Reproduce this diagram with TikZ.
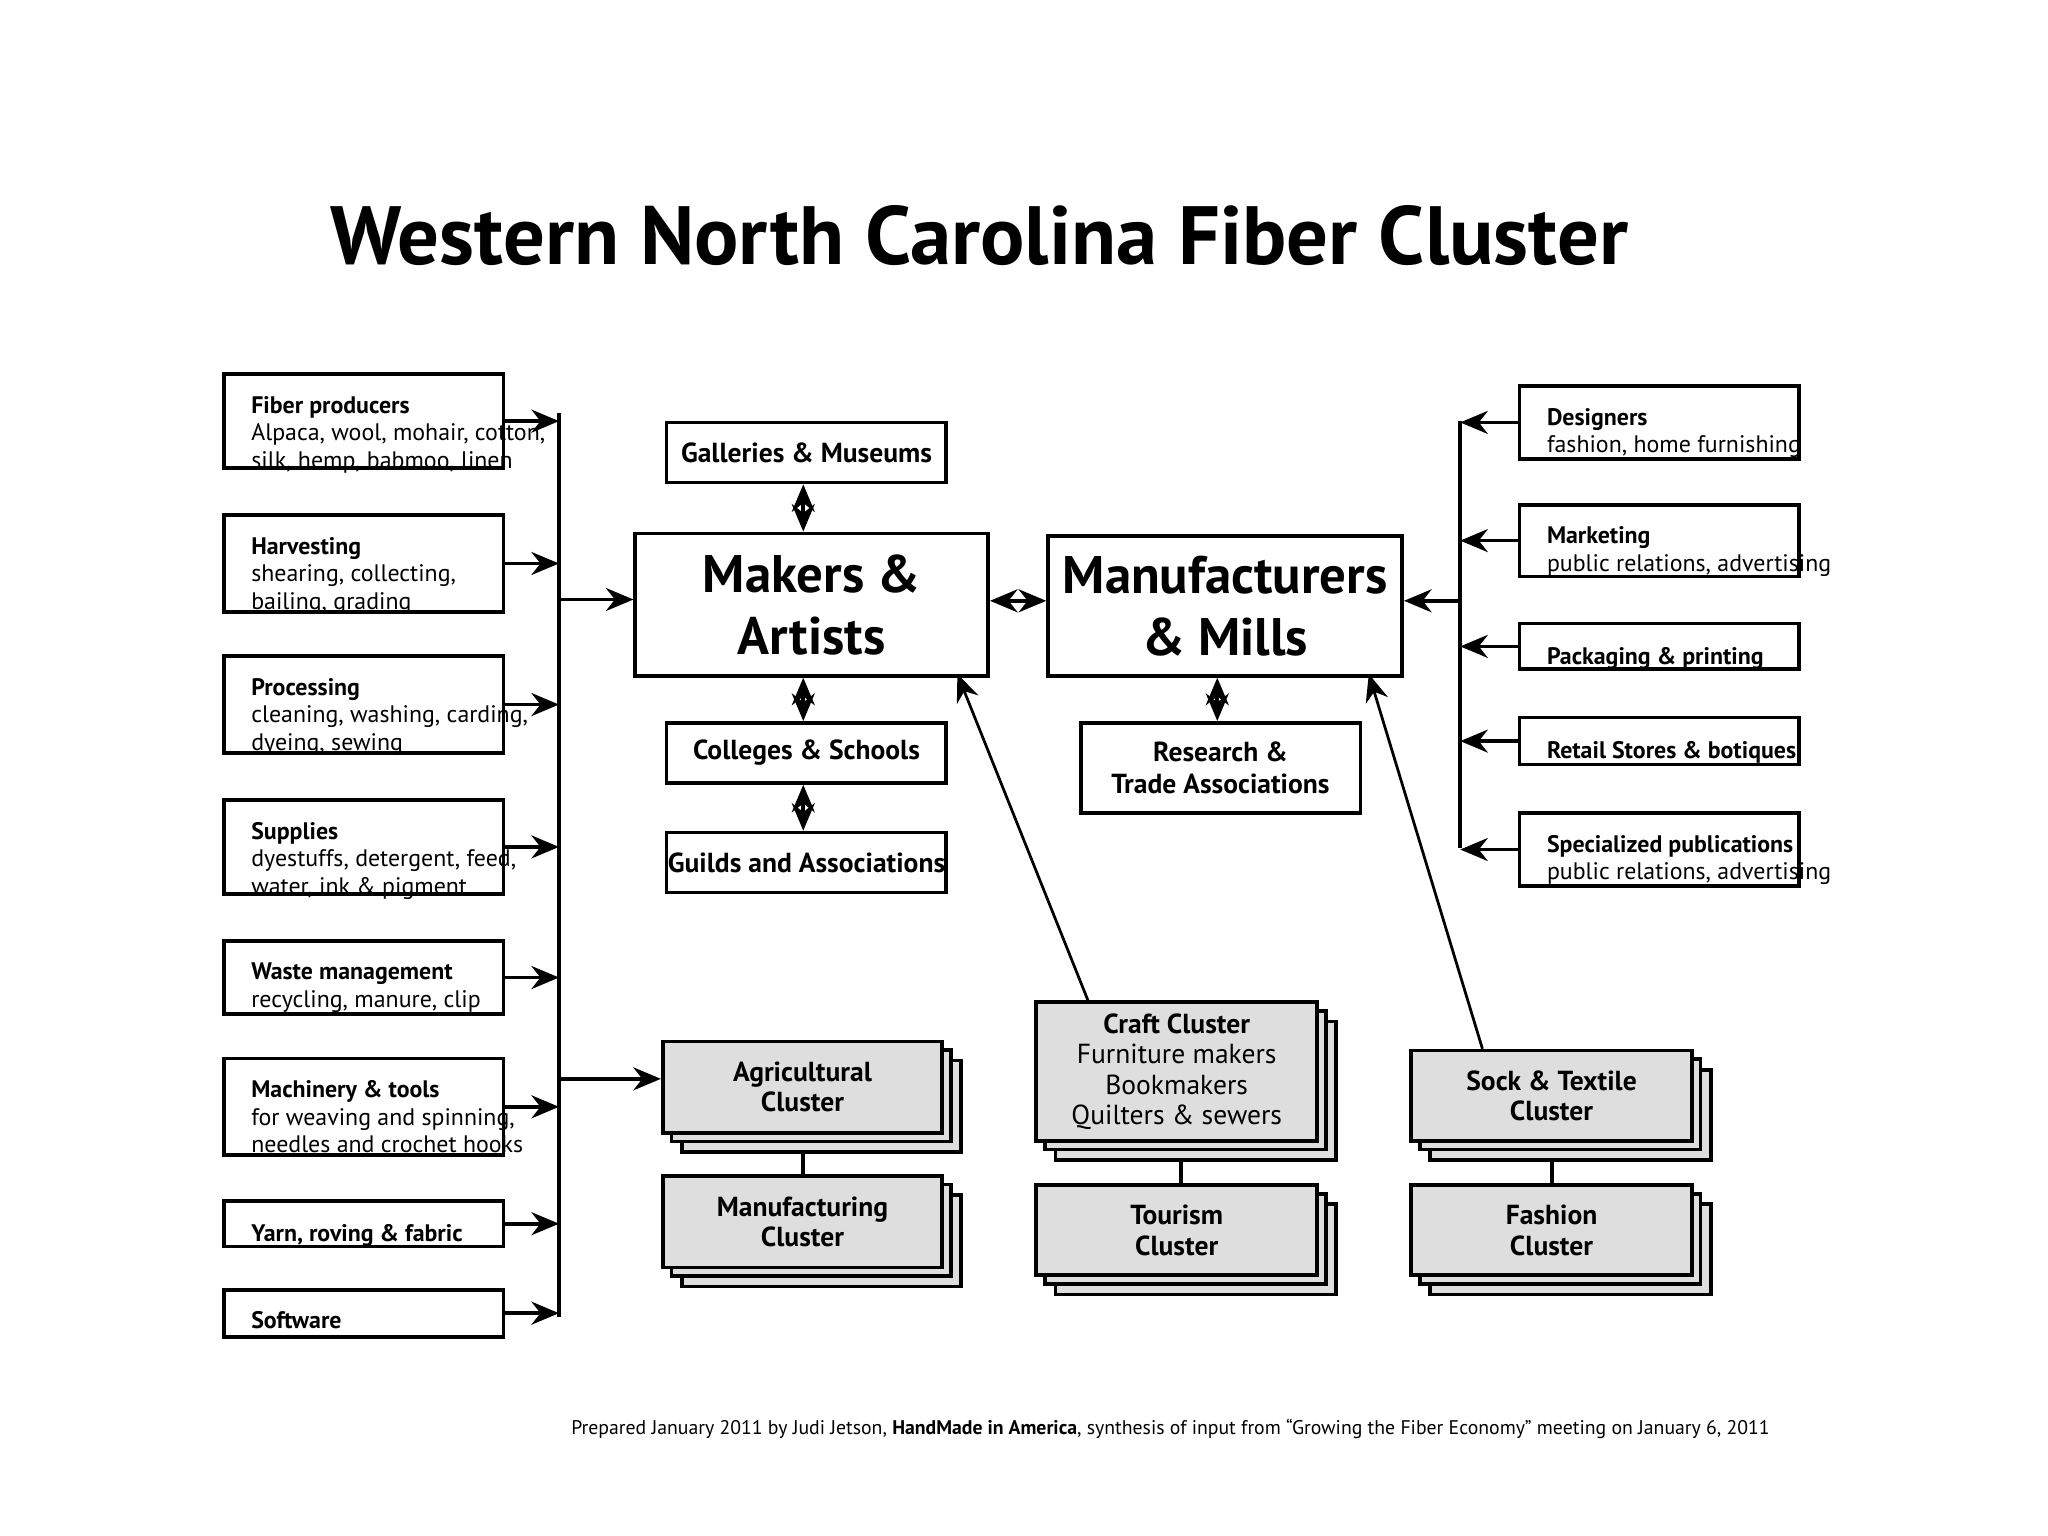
\documentclass[tikz,border=0pt]{standalone}
\usepackage{fontspec}
\setmainfont{PT Sans}
\usetikzlibrary{arrows.meta,positioning}
\definecolor{cg}{RGB}{222,222,222}
\begin{document}
\begin{tikzpicture}[x=0.01cm,y=-0.01cm,
 box/.style={draw,thick,fill=white,inner sep=0pt,anchor=north west},
 arr/.style={thick,-{Stealth[length=6pt,width=5pt]}},
 darr/.style={thick,{Stealth[length=6pt,width=5pt]}-{Stealth[length=6pt,width=5pt]}},
 lt/.style={font=\fontsize{5.2}{6}\selectfont,align=left,anchor=north west},
 ct/.style={font=\bfseries\fontsize{6}{7}\selectfont,align=center}]
\useasboundingbox (0,0) rectangle (1568,1176);
\node[font=\bfseries\fontsize{18}{20}\selectfont] (title) at (750,180) {Western North Carolina Fiber Cluster};
% left boxes
\newcommand\lbox[5]{\node[box,minimum width=2.14cm,minimum height=#3cm] (#1) at (170,#2) {};
 \node[lt] at (180,#2+6) {\textbf{#4}\\#5};}
\lbox{l1}{285}{0.72}{Fiber producers}{Alpaca, wool, mohair, cotton,\\silk, hemp, babmoo, linen}
\lbox{l2}{393}{0.74}{Harvesting}{shearing, collecting,\\bailing, grading}
\lbox{l3}{501}{0.74}{Processing}{cleaning, washing, carding,\\dyeing, sewing}
\lbox{l4}{611}{0.72}{Supplies}{dyestuffs, detergent, feed,\\water, ink \& pigment}
\lbox{l5}{719}{0.56}{Waste management}{recycling, manure, clip}
\lbox{l6}{809}{0.74}{Machinery \& tools}{for weaving and spinning,\\needles and crochet hooks}
\node[box,minimum width=2.14cm,minimum height=0.35cm] (l7) at (170,918) {};
\node[lt] at (180,925) {\textbf{Yarn, roving \& fabric}};
\node[box,minimum width=2.14cm,minimum height=0.36cm] (l8) at (170,986) {};
\node[lt] at (180,992) {\textbf{Software}};
\coordinate (lt) at (428,316); \coordinate (lb) at (428,1008);
\draw[thick] (lt) -- (lb);
\foreach \n in {l1,l2,l3,l4,l5,l6,l7,l8}{\draw[arr] (\n.east) -- (\n.east -| lt);}
% right boxes
\newcommand\rbox[5]{\node[box,minimum width=2.14cm,minimum height=#3cm] (#1) at (1162,#2) {};
 \node[lt] at (1172,#2+6) {\textbf{#4}\\#5};}
\rbox{r1}{294}{0.56}{Designers}{fashion, home furnishing}
\rbox{r2}{385}{0.55}{Marketing}{public relations, advertising}
\node[box,minimum width=2.14cm,minimum height=0.35cm] (r3) at (1162,476) {};
\node[lt] at (1172,483) {\textbf{Packaging \& printing}};
\node[box,minimum width=2.14cm,minimum height=0.36cm] (r4) at (1162,548) {};
\node[lt] at (1172,555) {\textbf{Retail Stores \& botiques}};
\rbox{r5}{621}{0.56}{Specialized publications}{public relations, advertising}
\coordinate (rt) at (1118,322); \coordinate (rb) at (1118,649);
\draw[thick] (rt) -- (rb);
\foreach \n in {r1,r2,r3,r4,r5}{\draw[arr] (\n.west) -- (\n.west -| rt);}
% center
\node[box,minimum width=2.14cm,minimum height=0.46cm,ct] (gal) at (509,322) {Galleries \& Museums};
\node[box,minimum width=2.70cm,minimum height=1.09cm,font=\bfseries\fontsize{11.5}{13.5}\selectfont,align=center] (mak) at (485,407) {Makers \&\\Artists};
\node[box,minimum width=2.14cm,minimum height=0.46cm,ct] (col) at (509,552) {Colleges \& Schools};
\node[box,minimum width=2.14cm,minimum height=0.46cm,ct] (gui) at (509,636) {Guilds and Associations};
\node[box,minimum width=2.71cm,minimum height=1.07cm,font=\bfseries\fontsize{11.5}{13.5}\selectfont,align=center] (man) at (801,409) {Manufacturers\\\& Mills};
\node[box,minimum width=2.14cm,minimum height=0.69cm,ct] (res) at (826,552) {Research \&\\Trade Associations};
\draw[darr] (gal.south -| 615,0) -- (mak.north -| 615,0);
\draw[darr] (mak.south -| 615,0) -- (col.north -| 615,0);
\draw[darr] (col.south -| 615,0) -- (gui.north -| 615,0);
\draw[darr] (man.south -| 932,0) -- (res.north -| 932,0);
\draw[darr] (mak.east |- 0,460) -- (man.west |- 0,460);
\draw[arr] (lt |- 0,459) -- (mak.west |- 0,459);
\draw[arr] (rt |- 0,460) -- (man.east |- 0,460);
% stacks
\newcommand\stk[6]{%
 \foreach \o in {16,8}{\draw[thick,fill=cg] (#2+\o,#3+\o) rectangle (#2+#4+\o,#3+#5+\o);}
 \node[box,fill=cg,minimum width=#4*0.01cm,minimum height=#5*0.01cm,align=center,font=\fontsize{6}{6.6}\selectfont] (#1) at (#2,#3) {#6};}
\stk{agr}{506}{796}{214}{70}{\textbf{Agricultural}\\\textbf{Cluster}}
\stk{mfc}{506}{899}{214}{70}{\textbf{Manufacturing}\\\textbf{Cluster}}
\stk{cra}{792}{766}{215}{106}{\textbf{Craft Cluster}\\Furniture makers\\Bookmakers\\Quilters \& sewers}
\stk{tou}{792}{906}{215}{69}{\textbf{Tourism}\\\textbf{Cluster}}
\stk{soc}{1079}{803}{215}{69}{\textbf{Sock \& Textile}\\\textbf{Cluster}}
\stk{fas}{1079}{906}{215}{69}{\textbf{Fashion}\\\textbf{Cluster}}
\draw[thick] (615,882) -- (mfc.north -| 615,0);
\draw[thick] (904,888) -- (tou.north -| 904,0);
\draw[thick] (1188,888) -- (fas.north -| 1188,0);
\draw[arr] (lt |- 0,826) -- (agr.west |- 0,826);
\draw[arr,semithick] (cra.north -| 833,0) -- (733,516);
\draw[arr,semithick] (soc.north -| 1135,0) -- (1048,516);
\node[font=\fontsize{4.3}{5}\selectfont,anchor=west] (foot) at (425,1094) {Prepared January 2011 by Judi Jetson, \textbf{HandMade in America}, synthesis of input from ``Growing the Fiber Economy'' meeting on January 6, 2011};
\end{tikzpicture}
\end{document}
